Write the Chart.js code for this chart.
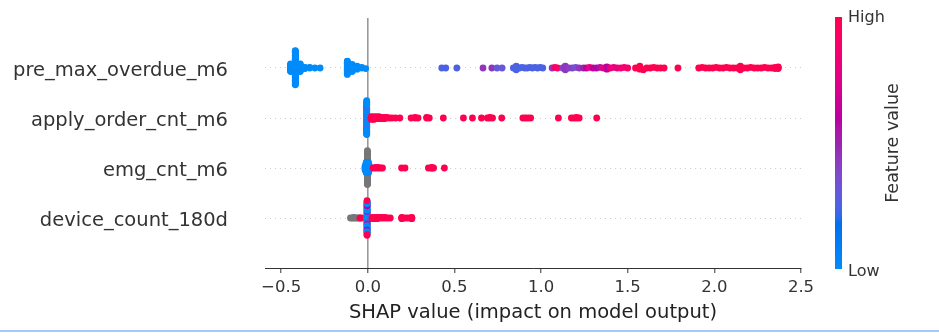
<!DOCTYPE html>
<html>
<head>
<meta charset="utf-8">
<script src="https://cdn.jsdelivr.net/npm/chart.js@4.4.1/dist/chart.umd.min.js"></script>
<style>
  html, body { margin: 0; padding: 0; background: #fff; }
  canvas { display: block; }
</style>
</head>
<body>
<canvas id="chart" width="939" height="336"></canvas>
<script>
// features, top to bottom
var features = ['pre_max_overdue_m6', 'apply_order_cnt_m6', 'emg_cnt_m6', 'device_count_180d'];
var xTicks = [-0.5, 0, 0.5, 1, 1.5, 2, 2.5];
var rowTicks = [0, 1, 2, 3];

// [shap value, feature value 0..1 (null = missing), number of points]
var preMaxOverdue = [
    [-0.445, 0, 14], [-0.418, 0, 60], [-0.39, 0, 14], [-0.362, 0, 3], [-0.335, 0, 2], [-0.305, 0, 1], [-0.275, 0, 1],
    [-0.118, 0, 24], [-0.09, 0, 13], [-0.062, 0, 6], [-0.035, 0, 2], [-0.012, 0, 1],
    [0.427, 0.25, 1], [0.45, 0.25, 1], [0.514, 0.25, 1],
    [0.665, 0.45, 1], [0.716, 0.45, 1], [0.746, 0.3, 1], [0.775, 0.3, 1],
    [0.84, 0.25, 1], [0.857, 0.25, 6], [0.875, 0.25, 1], [0.89, 0.25, 1], [0.905, 0.25, 1], [0.92, 0.25, 1],
    [0.935, 0.25, 1], [0.95, 0.25, 1], [0.965, 0.25, 1], [0.98, 0.25, 1], [0.995, 0.25, 1], [1.01, 0.25, 1],
    [1.064, 0.45, 1], [1.08, 0.95, 1], [1.095, 0.9, 1],
    [1.125, 0.4, 1], [1.14, 0.45, 6], [1.16, 0.4, 1], [1.18, 0.4, 1], [1.2, 0.35, 1], [1.22, 0.45, 1], [1.245, 0.5, 1], [1.262, 0.6, 1],
    [1.28, 0.85, 1], [1.3, 0.6, 1], [1.32, 0.6, 1], [1.34, 0.55, 1],
    [1.36, 0.85, 1], [1.38, 0.6, 5], [1.4, 0.85, 1], [1.42, 0.8, 1], [1.44, 0.8, 1], [1.46, 0.85, 1], [1.48, 0.85, 1], [1.5, 0.9, 1],
    [1.545, 1, 1], [1.57, 1, 6], [1.59, 1, 1], [1.61, 1, 1], [1.63, 1, 1], [1.65, 1, 1], [1.67, 1, 1], [1.69, 1, 1], [1.71, 1, 1],
    [1.79, 1, 1],
    [1.91, 1, 1], [1.93, 1, 1], [1.95, 1, 1], [1.97, 1, 1], [1.99, 1, 1], [2.01, 1, 1], [2.03, 1, 1], [2.05, 1, 1],
    [2.07, 1, 1], [2.09, 1, 1], [2.11, 1, 1], [2.13, 1, 1], [2.15, 1, 6], [2.17, 1, 1], [2.19, 1, 1], [2.21, 1, 1],
    [2.23, 1, 1], [2.25, 1, 1], [2.27, 1, 1], [2.29, 1, 1], [2.31, 1, 1], [2.33, 1, 1], [2.35, 1, 2], [2.368, 1, 4]
];
var applyOrderCnt = [
    [-0.006, 0, 12], [-0.006, 0.3, 3], [-0.006, 0, 16], [-0.008, 0.35, 3], [-0.006, 0, 16],
    [0.02, 1, 5], [0.035, 1, 5], [0.05, 1, 4], [0.065, 1, 4], [0.08, 1, 3], [0.095, 1, 3], [0.11, 1, 2],
    [0.125, 1, 1], [0.14, 1, 1], [0.16, 1, 1], [0.185, 1, 1],
    [0.25, 1, 1], [0.273, 1, 2], [0.29, 1, 1], [0.34, 1, 2], [0.355, 1, 1],
    [0.436, 1, 1], [0.552, 1, 1], [0.604, 1, 1], [0.656, 1, 1], [0.69, 1, 1], [0.705, 1, 2], [0.72, 1, 1], [0.773, 1, 1],
    [0.895, 1, 1], [0.91, 1, 1], [0.925, 1, 1], [0.94, 1, 1],
    [1.1, 1, 1], [1.175, 1, 1], [1.19, 1, 1], [1.205, 1, 2], [1.22, 1, 1], [1.321, 1, 1]
];
var emgCnt = [
    [-0.015, 0, 7], [-0.009, 0, 16], [-0.002, null, 50], [0.004, 0, 16], [0.009, 0, 7],
    [0.03, 1, 1], [0.045, 1, 2], [0.06, 1, 2], [0.075, 1, 1], [0.085, 1, 1],
    [0.195, 1, 1], [0.215, 1, 1],
    [0.35, 1, 1], [0.365, 1, 1], [0.37, 1, 2], [0.38, 1, 1], [0.442, 1, 1]
];
var deviceCount = [
    [-0.1, null, 1], [-0.09, null, 1], [-0.08, null, 2], [-0.07, null, 1], [-0.06, null, 1], [-0.05, null, 1],
    [-0.045, 1, 1], [-0.035, 1, 1],
    [-0.004, 0, 16], [-0.004, 0.5, 5], [-0.004, 0, 12], [-0.004, 0.6, 5], [-0.004, 0, 8], [-0.004, 1, 3],
    [0.025, 1, 3], [0.04, 1, 3], [0.055, 1, 3], [0.07, 1, 2], [0.085, 1, 2], [0.1, 1, 2], [0.115, 1, 1], [0.13, 1, 1],
    [0.196, 1, 3], [0.21, 1, 1], [0.225, 1, 1], [0.24, 1, 1], [0.254, 1, 3]
];
var rows = [preMaxOverdue, applyOrderCnt, emgCnt, deviceCount];

// shap's red_blue colormap (LCH ramp, lightness dips in the middle)
function redBlue(t) {
    var L = t < 0.5 ? 54 - 28 * t : 40 + 28 * (t - 0.5);
    var C = 70 + 20 * t;
    var h = 4.6588 + (0.35470565 + 2 * Math.PI - 4.6588) * t;
    var a = C * Math.cos(h), b = C * Math.sin(h);
    var fy = (L + 16) / 116, fx = fy + a / 500, fz = fy - b / 200;
    var finv = function(f) { return f > 6 / 29 ? f * f * f : 3 * (6 / 29) * (6 / 29) * (f - 4 / 29); };
    var X = 0.95047 * finv(fx), Y = finv(fy), Z = 1.08883 * finv(fz);
    var lin = [3.2406 * X - 1.5372 * Y - 0.4986 * Z, -0.9689 * X + 1.8758 * Y + 0.0415 * Z, 0.0557 * X - 0.2040 * Y + 1.0570 * Z];
    var rgb = lin.map(function(c) {
        c = c <= 0.0031308 ? 12.92 * c : 1.055 * Math.pow(c, 1 / 2.4) - 0.055;
        return Math.round(255 * Math.min(1, Math.max(0, c)));
    });
    return 'rgb(' + rgb.join(',') + ')';
}

// beeswarm offsets, same binning as shap.summary_plot
function swarm(vals) {
    var lo = Math.min.apply(null, vals), hi = Math.max.apply(null, vals);
    var quant = vals.map(function(v) { return Math.round(100 * (v - lo) / (hi - lo + 1e-8)); });
    var idx = vals.map(function(v, i) { return i; });
    idx.sort(function(a, b) { return quant[a] - quant[b] || a - b; });
    var ys = vals.map(function() { return 0; });
    var layer = 0, last = -1;
    idx.forEach(function(i) {
        if (quant[i] !== last) layer = 0;
        ys[i] = Math.ceil(layer / 2) * ((layer % 2) * 2 - 1);
        layer++;
        last = quant[i];
    });
    var m = Math.max.apply(null, ys.map(function(y) { return y + 1; }));
    return ys.map(function(y) { return y * 0.9 * (0.4 / m); });
}

var nanPts = [], colPts = [], colColors = [];
rows.forEach(function(row, i) {
    var pts = [];
    row.forEach(function(p) {
        for (var k = 0; k < p[2]; k++) pts.push({x: p[0], fv: p[1]});
    });
    var ys = swarm(pts.map(function(p) { return p.x; }));
    var r = features.length - 1 - i;
    pts.forEach(function(p, j) {
        var pt = {x: p.x, y: r + ys[j]};
        if (p.fv === null) {
            nanPts.push(pt);
        } else {
            colPts.push(pt);
            colColors.push(redBlue(p.fv));
        }
    });
});

var colorBar = {
    id: 'colorBar',
    afterDraw: function(chart) {
        var ctx = chart.ctx, area = chart.chartArea;
        var x = area.right + 34, w = 7, top = area.top - 1, bottom = area.bottom + 1;
        var g = ctx.createLinearGradient(0, bottom, 0, top);
        for (var i = 0; i <= 50; i++) g.addColorStop(i / 50, redBlue(i / 50));
        ctx.save();
        ctx.fillStyle = g;
        ctx.fillRect(x, top, w, bottom - top);
        ctx.fillStyle = '#333';
        ctx.font = '16px "DejaVu Sans"';
        ctx.textBaseline = 'middle';
        ctx.textAlign = 'left';
        ctx.fillText('High', x + w + 6, top + 1);
        ctx.fillText('Low', x + w + 6, bottom + 3);
        ctx.translate(x + 58, (top + bottom) / 2);
        ctx.rotate(-Math.PI / 2);
        ctx.textAlign = 'center';
        ctx.font = '17.5px "DejaVu Sans"';
        ctx.fillText('Feature value', 0, 0);
        ctx.restore();
        ctx.fillStyle = '#a8c7fa';
        ctx.fillRect(0, 330, chart.width, 2);
    }
};

var myChart = new Chart(document.getElementById('chart'), {
    type: 'scatter',
    data: {
        datasets: [{
            data: colPts,
            backgroundColor: colColors,
            pointRadius: 3.4,
            pointBorderWidth: 0,
            order: 1
        }, {
            data: nanPts,
            backgroundColor: '#777777',
            pointRadius: 3.4,
            pointBorderWidth: 0,
            order: 2
        }]
    },
    options: {
        responsive: false,
        animation: false,
        events: [],
        layout: { padding: { top: 18, right: 138, bottom: 0, left: 0 } },
        plugins: {
            legend: { display: false },
            tooltip: { enabled: false }
        },
        scales: {
            x: {
                type: 'linear',
                position: 'bottom',
                min: -0.593,
                max: 2.5,
                afterBuildTicks: function(s) { s.ticks = xTicks.map(function(v) { return {value: v}; }); },
                afterFit: function(s) { s.height = 68; s.paddingLeft = 0; s.paddingRight = 0; },
                grid: {
                    color: function(c) { return c.tick && c.tick.value === 0 ? '#999999' : 'rgba(0,0,0,0)'; },
                    lineWidth: 1.6,
                    drawTicks: true,
                    tickLength: 5,
                    tickColor: '#333',
                    tickWidth: 1
                },
                border: { display: true, color: '#333', width: 1 },
                ticks: {
                    font: { family: 'DejaVu Sans', size: 16.5 },
                    color: '#333',
                    padding: 5,
                    maxRotation: 0,
                    autoSkip: false,
                    callback: function(v) { return (v < 0 ? '\u2212' : '') + Math.abs(v).toFixed(1); }
                },
                title: {
                    display: true,
                    text: 'SHAP value (impact on model output)',
                    font: { family: 'DejaVu Sans', size: 19.5 },
                    color: '#222',
                    padding: { top: 0, bottom: 11 }
                }
            },
            y: {
                type: 'linear',
                min: -1,
                max: 4,
                afterBuildTicks: function(s) { s.ticks = rowTicks.map(function(v) { return {value: v}; }); },
                afterFit: function(s) { s.width = 265; s.paddingTop = 0; s.paddingBottom = 0; },
                grid: { color: '#cccccc', lineWidth: 1, drawTicks: false },
                border: { display: false, dash: [1, 4] },
                ticks: {
                    font: { family: 'DejaVu Sans', size: 19.5 },
                    color: '#333',
                    padding: 37,
                    labelOffset: 3,
                    callback: function(v) { return features[features.length - 1 - v]; }
                }
            }
        }
    },
    plugins: [colorBar]
});
</script>
</body>
</html>
